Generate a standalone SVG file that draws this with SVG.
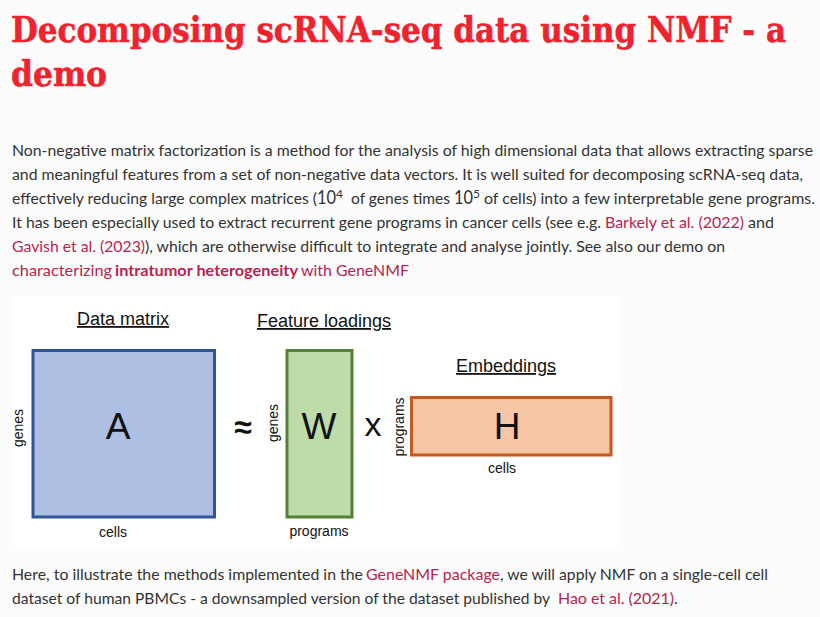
<svg xmlns="http://www.w3.org/2000/svg" width="820" height="617" viewBox="0 0 820 617">
<style>
.h{font-family:"DejaVu Serif Condensed","DejaVu Serif",serif;font-weight:700;font-size:36px;fill:#f0222e;stroke:#f0222e;stroke-width:.5px}
.b{font-family:Lato,"Open Sans",sans-serif;font-size:16px;fill:#333}
.l{fill:#b9234f}
.d{font-family:"Liberation Sans",Arial,sans-serif;fill:#111}
.u{font-size:18px}
.s{font-size:14px}
.x{font-size:37px}
.m{stroke-width:3}
</style>
<rect width="820" height="617" fill="#fcfcfc"/>
<text class="h" x="11" y="42" textLength="775" lengthAdjust="spacingAndGlyphs">Decomposing scRNA-seq data using NMF - a</text>
<text class="h" x="11" y="86" textLength="96" lengthAdjust="spacingAndGlyphs">demo</text>
<g class="b">
<text x="12" y="156" textLength="801" lengthAdjust="spacingAndGlyphs">Non-negative matrix factorization is a method for the analysis of high dimensional data that allows extracting sparse</text>
<text x="12" y="180" textLength="791" lengthAdjust="spacingAndGlyphs">and meaningful features from a set of non-negative data vectors. It is well suited for decomposing scRNA-seq data,</text>
<text x="12" y="204" textLength="305" lengthAdjust="spacingAndGlyphs">effectively reducing large complex matrices (</text>
<text x="317" y="204" font-size="20" textLength="19" lengthAdjust="spacingAndGlyphs">10</text>
<text x="336" y="198" font-size="12">4</text>
<text x="351" y="204" textLength="99" lengthAdjust="spacingAndGlyphs">of genes times</text>
<text x="454" y="204" font-size="20" textLength="19" lengthAdjust="spacingAndGlyphs">10</text>
<text x="473" y="198" font-size="12">5</text>
<text x="484" y="204" textLength="331" lengthAdjust="spacingAndGlyphs">of cells) into a few interpretable gene programs.</text>
<text x="12" y="228" textLength="589" lengthAdjust="spacingAndGlyphs">It has been especially used to extract recurrent gene programs in cancer cells (see e.g.</text>
<text class="l" x="605" y="228" textLength="139" lengthAdjust="spacingAndGlyphs">Barkely et al. (2022)</text>
<text x="748" y="228" textLength="26" lengthAdjust="spacingAndGlyphs">and</text>
<text class="l" x="12" y="252" textLength="133" lengthAdjust="spacingAndGlyphs">Gavish et al. (2023)</text>
<text x="145" y="252" textLength="580" lengthAdjust="spacingAndGlyphs">), which are otherwise difficult to integrate and analyse jointly. See also our demo on</text>
<text class="l" x="12" y="276" textLength="100" lengthAdjust="spacingAndGlyphs">characterizing</text>
<text class="l" x="115" y="276" font-weight="700" textLength="183" lengthAdjust="spacingAndGlyphs">intratumor heterogeneity</text>
<text class="l" x="301" y="276" textLength="108" lengthAdjust="spacingAndGlyphs">with GeneNMF</text>
</g>
<rect x="12" y="297" width="608" height="249" fill="#fff"/>
<g id="node-a">
<rect class="m" x="33" y="350.500" width="181.500" height="166.500" fill="#adbfe3" stroke="#2f5597"/>
<text class="d x" x="118" y="439" text-anchor="middle">A</text>
<text class="d s" transform="translate(23,428) rotate(-90)" text-anchor="middle">genes</text>
<text class="d s" x="113" y="537" text-anchor="middle">cells</text>
<text class="d u" x="123" y="325" text-anchor="middle" text-decoration="underline">Data matrix</text>
</g>
<text class="d" x="243" y="438" text-anchor="middle" font-size="32" font-weight="700">≈</text>
<g id="node-w">
<rect class="m" x="287" y="350.500" width="65" height="166.500" fill="#bddcaa" stroke="#538135"/>
<text class="d x" x="319" y="439" text-anchor="middle">W</text>
<text class="d s" transform="translate(278,423) rotate(-90)" text-anchor="middle">genes</text>
<text class="d s" x="319" y="536" text-anchor="middle">programs</text>
<text class="d u" x="324" y="327" text-anchor="middle" text-decoration="underline">Feature loadings</text>
</g>
<text class="d" x="373" y="436" text-anchor="middle" font-size="34">x</text>
<g id="node-h">
<rect class="m" x="411.500" y="397.500" width="199.500" height="57.500" fill="#f5c5a5" stroke="#c55a21"/>
<text class="d x" x="507" y="439" text-anchor="middle">H</text>
<text class="d s" transform="translate(404,427) rotate(-90)" text-anchor="middle">programs</text>
<text class="d s" x="502" y="473" text-anchor="middle">cells</text>
<text class="d u" x="506" y="372" text-anchor="middle" text-decoration="underline">Embeddings</text>
</g>
<g class="b">
<text x="12" y="580" textLength="351" lengthAdjust="spacingAndGlyphs">Here, to illustrate the methods implemented in the</text>
<text class="l" x="366" y="580" textLength="134" lengthAdjust="spacingAndGlyphs">GeneNMF package</text>
<text x="500" y="580" textLength="268" lengthAdjust="spacingAndGlyphs">, we will apply NMF on a single-cell cell</text>
<text x="12" y="604" textLength="538" lengthAdjust="spacingAndGlyphs">dataset of human PBMCs - a downsampled version of the dataset published by</text>
<text class="l" x="558" y="604" textLength="116" lengthAdjust="spacingAndGlyphs">Hao et al. (2021)</text>
<text x="674" y="604">.</text>
</g>
</svg>
